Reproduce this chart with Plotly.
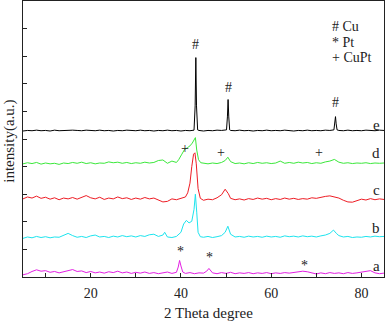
import plotly.graph_objects as go

# ---- data (2 theta in degrees, intensity in arbitrary units, already stacked) ----
xa = list(range(5, 40)) + [39.4, 39.7, 40.0, 40.4] + list(range(41, 46)) + [45.7, 46.2, 46.7] + list(range(47, 86))
ya = [0.08, 0.12, 0.20, 0.26, 0.21, 0.23, 0.17, 0.20, 0.15, 0.19,
      0.22, 0.27, 0.20, 0.22, 0.16, 0.20, 0.15, 0.18, 0.14, 0.19,
      0.16, 0.21, 0.15, 0.18, 0.13, 0.17, 0.14, 0.18, 0.13, 0.16,
      0.12, 0.15, 0.18, 0.13, 0.17,
      0.36, 0.60, 0.40, 0.18,
      0.13, 0.16, 0.12, 0.15, 0.14,
      0.21, 0.31, 0.20,
      0.15, 0.12, 0.16, 0.13, 0.17, 0.12, 0.15, 0.13, 0.16, 0.12,
      0.15, 0.13, 0.16, 0.12, 0.15, 0.13, 0.16, 0.14, 0.17, 0.19,
      0.21, 0.19, 0.16, 0.11, 0.15, 0.12, 0.16, 0.13, 0.15, 0.12,
      0.16, 0.13, 0.15, 0.17, 0.21, 0.23, 0.15, 0.12, 0.14]

xb = (list(range(5, 36)) + [36, 36.4, 37, 38, 39, 40, 40.6, 41.2, 41.8, 42.4, 42.9, 43.2, 43.5, 43.8, 44.3]
      + list(range(45, 50)) + [49.8, 50.4] + list(range(51, 74)) + [73.8, 74.5] + list(range(75, 86)))
yb = [1.40, 1.45, 1.42, 1.47, 1.43, 1.46, 1.42, 1.45, 1.44, 1.50,
      1.58, 1.50, 1.44, 1.47, 1.43, 1.49, 1.52, 1.45, 1.47, 1.43,
      1.48, 1.45, 1.50, 1.46, 1.49, 1.45, 1.50, 1.47, 1.53, 1.55,
      1.47,
      1.52, 1.62, 1.45, 1.43, 1.47, 1.62, 1.92, 2.05, 1.96, 2.02, 2.45, 3.00, 2.35, 1.62, 1.46,
      1.44, 1.47, 1.43, 1.46, 1.50,
      1.62, 1.84,
      1.55, 1.45, 1.47, 1.44, 1.48, 1.45, 1.47, 1.44, 1.48, 1.45,
      1.47, 1.44, 1.49, 1.46, 1.48, 1.45, 1.49, 1.46, 1.48, 1.45,
      1.49, 1.52, 1.58,
      1.70, 1.57,
      1.50, 1.45, 1.47, 1.43, 1.45, 1.44, 1.47, 1.45, 1.48, 1.46, 1.47]

xc = (list(range(5, 42)) + [41.5, 42.0, 42.4, 42.8, 43.1, 43.4, 43.8, 44.3]
      + list(range(45, 50)) + [49.8, 50.5] + list(range(51, 86)))
yc = [2.83, 2.90, 2.86, 2.93, 2.85, 2.89, 2.82, 2.87, 2.80, 2.86,
      2.83, 2.88, 2.82, 2.90, 2.95, 2.87, 2.83, 2.89, 2.81, 2.86,
      2.83, 2.90, 2.84, 2.87, 2.81, 2.86, 2.82, 2.88, 2.83, 2.86,
      2.80, 2.72, 2.74, 2.83, 2.80, 2.86, 2.90,
      3.05, 3.40, 4.00, 4.45, 4.50, 4.10, 3.20, 2.85,
      2.78, 2.82, 2.80, 2.87, 2.98,
      3.18, 3.02,
      2.85, 2.80, 2.83, 2.79, 2.84, 2.81, 2.86, 2.82, 2.85, 2.80,
      2.84, 2.81, 2.86, 2.82, 2.85, 2.81, 2.84, 2.82, 2.87, 2.85,
      2.89, 2.92, 2.94, 2.91, 2.86, 2.78, 2.72, 2.71, 2.76, 2.82,
      2.79, 2.84, 2.80, 2.83, 2.81]

xd = (list(range(5, 40)) + [39.5, 40.2, 40.8, 41.4, 42.0, 42.5, 42.9, 43.2, 43.5, 43.9, 44.4]
      + list(range(45, 50)) + [49.8, 50.4] + list(range(51, 86)))
yd = [4.10, 4.14, 4.11, 4.15, 4.09, 4.13, 4.10, 4.12, 4.08, 4.13,
      4.11, 4.15, 4.12, 4.16, 4.11, 4.14, 4.10, 4.13, 4.12, 4.17,
      4.14, 4.16, 4.12, 4.15, 4.11, 4.14, 4.12, 4.16, 4.13, 4.15,
      4.22, 4.24, 4.12, 4.20, 4.15,
      4.25, 4.45, 4.62, 4.68, 4.75, 4.85, 4.95, 5.05, 4.60, 4.25, 4.14,
      4.12, 4.10, 4.13, 4.11, 4.15,
      4.22, 4.34,
      4.18, 4.11, 4.13, 4.10, 4.14, 4.11, 4.15, 4.12, 4.14, 4.11,
      4.13, 4.20, 4.12, 4.15, 4.12, 4.16, 4.13, 4.15, 4.11, 4.14,
      4.12, 4.17, 4.20, 4.26, 4.16, 4.12, 4.14, 4.11, 4.13, 4.12,
      4.14, 4.11, 4.13, 4.12, 4.13]

xe = (list(range(5, 43)) + [42.9, 43.15, 43.3, 43.45, 43.7] + list(range(44, 50))
      + [50.1, 50.3, 50.45, 50.6, 50.8] + list(range(51, 74))
      + [73.9, 74.1, 74.25, 74.4, 74.6] + list(range(75, 86)))
ye = [5.29, 5.31, 5.30, 5.32, 5.30, 5.31, 5.29, 5.32, 5.30, 5.31,
      5.30, 5.32, 5.31, 5.30, 5.32, 5.31, 5.30, 5.32, 5.30, 5.31,
      5.29, 5.31, 5.30, 5.32, 5.31, 5.30, 5.32, 5.30, 5.31, 5.29,
      5.31, 5.30, 5.32, 5.30, 5.31, 5.29, 5.31, 5.30,
      5.32, 6.20, 7.95, 6.20, 5.33,
      5.31, 5.29, 5.31, 5.30, 5.32, 5.31,
      5.33, 5.80, 6.43, 5.80, 5.33,
      5.31, 5.30, 5.32, 5.30, 5.31, 5.29, 5.31, 5.30, 5.32, 5.30,
      5.31, 5.30, 5.32, 5.31, 5.29, 5.31, 5.30, 5.32, 5.30, 5.31,
      5.30, 5.32, 5.31,
      5.33, 5.55, 5.81, 5.55, 5.33,
      5.31, 5.30, 5.32, 5.30, 5.31, 5.30, 5.32, 5.31, 5.30, 5.32, 5.31]

series_names = ["a", "b", "c", "d", "e"]
series_colors = ["#e41fe4", "#1de4ee", "#ee1c24", "#3be83b", "#000000"]
label_y = [0.40, 1.77, 3.14, 4.51, 5.52]

cu_x = [43.3, 50.5, 74.3]
cu_y = [8.43, 6.88, 6.34]
pt_x = [39.9, 46.3, 67.3]
pt_y = [0.92, 0.70, 0.41]
cupt_x = [40.8, 48.8, 70.6]
cupt_y = [4.66, 4.52, 4.52]

legend_lines = ["# Cu", "* Pt", "+ CuPt"]
legend_y = [9.06, 8.50, 7.94]

x_ticks = [20, 40, 60, 80]
x_minor = [10, 30, 50, 70]
y_ticks = [1, 2, 3, 4, 5, 6, 7, 8, 9]

SERIF = "Liberation Serif"

fig = go.Figure()
for xs, ys, name, col in zip([xa, xb, xc, xd, xe], [ya, yb, yc, yd, ye], series_names, series_colors):
    fig.add_trace(go.Scatter(x=xs, y=ys, mode="lines", name=name,
                             line=dict(color=col, width=1), showlegend=False))

ann = []
for name, ly in zip(series_names, label_y):
    ann.append(dict(x=83.3, y=ly, text=name, showarrow=False, xref="x", yref="y",
                    font=dict(family=SERIF, size=15, color="#222")))
for sym, xs, ys in [("#", cu_x, cu_y), ("*", pt_x, pt_y), ("+", cupt_x, cupt_y)]:
    for x, y in zip(xs, ys):
        ann.append(dict(x=x, y=y, text=sym, showarrow=False, xref="x", yref="y",
                        font=dict(family=SERIF, size=14, color="#222")))
for t, ly in zip(legend_lines, legend_y):
    ann.append(dict(x=73.0, y=ly, text=t, showarrow=False, xref="x", yref="y",
                    xanchor="left", font=dict(family=SERIF, size=14, color="#222")))
ann.append(dict(x=46, y=0, xref="x", yref="paper", yshift=-36, yanchor="middle",
                text="2 Theta degree", showarrow=False,
                font=dict(family=SERIF, size=15, color="#222")))
ann.append(dict(x=0, y=0.49, xref="paper", yref="paper", xshift=-13, xanchor="center",
                yanchor="middle", text="intensity(a.u.)", textangle=-90, showarrow=False,
                font=dict(family=SERIF, size=15, color="#222")))

fig.update_layout(
    width=387, height=322,
    margin=dict(l=23, r=3, t=1, b=45),
    paper_bgcolor="white", plot_bgcolor="white",
    annotations=ann,
    xaxis=dict(range=[5, 85], tickvals=x_ticks, ticks="inside", ticklen=4, tickcolor="#222",
               showline=True, mirror=True, linecolor="#222", linewidth=1, showgrid=False,
               zeroline=False, tickfont=dict(family=SERIF, size=14, color="#222"),
               ticklabelstandoff=3,
               minor=dict(tickvals=x_minor, ticks="inside", ticklen=4, tickcolor="#222")),
    yaxis=dict(range=[0, 10], tickvals=y_ticks, ticks="inside", ticklen=4, tickcolor="#222",
               showticklabels=False, showline=True, mirror=True, linecolor="#222",
               linewidth=1, showgrid=False, zeroline=False),
)

fig.write_html("out.html")
